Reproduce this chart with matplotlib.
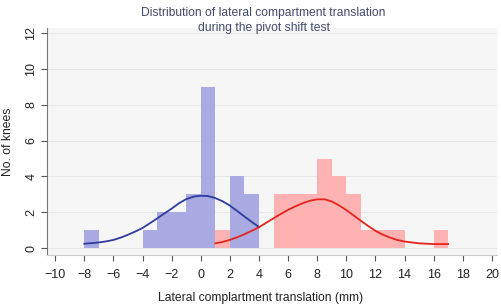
import matplotlib
matplotlib.use('Agg')
import matplotlib.pyplot as plt

plt.rcParams['font.family'] = ['Liberation Sans', 'DejaVu Sans']

# histogram bins (left edge, width 1 mm) and counts
blue_edges = [-8, -4, -3, -2, -1, 0, 2, 3]
blue_counts = [1, 1, 2, 2, 3, 9, 4, 3]
red_edges = [1, 5, 6, 7, 8, 9, 10, 11, 12, 13, 16]
red_counts = [1, 3, 3, 3, 5, 4, 3, 1, 1, 1, 1]

# fitted curves
blue_x = [-8, -7.5, -7, -6.5, -6, -5.5, -5, -4.5, -4, -3.5, -3, -2.5, -2, -1.5, -1, -0.5,
          0, 0.5, 1, 1.5, 2, 2.5, 3, 3.5, 4]
blue_y = [0.24, 0.27, 0.31, 0.37, 0.45, 0.58, 0.74, 0.92, 1.12, 1.38, 1.65, 1.93, 2.2, 2.5, 2.73, 2.87,
          2.92, 2.9, 2.79, 2.61, 2.37, 2.07, 1.76, 1.46, 1.17]
red_x = [1, 1.5, 2, 2.5, 3, 3.5, 4, 4.5, 5, 5.5, 6, 6.5, 7, 7.5, 8, 8.5, 9, 9.5, 10, 10.5,
         11, 11.5, 12, 12.5, 13, 13.5, 14, 15, 16, 17]
red_y = [0.26, 0.34, 0.45, 0.6, 0.77, 0.96, 1.16, 1.41, 1.66, 1.9, 2.13, 2.33, 2.5, 2.64, 2.72, 2.72, 2.6, 2.38,
         2.12, 1.82, 1.52, 1.23, 0.96, 0.75, 0.58, 0.45, 0.36, 0.26, 0.22, 0.22]

x_ticks = list(range(-10, 21, 2))
y_ticks = list(range(0, 13, 2))

fig = plt.figure(figsize=(5.02, 3.05), dpi=100)
ax = fig.add_axes([0.094, 0.164, 0.896, 0.744])
ax.set_facecolor('#f5f6f5')

ax.bar(blue_edges, blue_counts, width=1, align='edge', color='#aaaae2', linewidth=0, zorder=2)
ax.bar(red_edges, red_counts, width=1, align='edge', color='#ffb2b2', linewidth=0, zorder=2)
ax.plot(blue_x, blue_y, color='#2d3a9e', lw=1.3, zorder=3)
ax.plot(red_x, red_y, color='#e4241c', lw=1.3, zorder=3)

ax.set_xlim(-10.55, 20.35)
ax.set_ylim(-0.39, 12.29)
ax.set_xticks(x_ticks)
ax.set_xticklabels([str(t).replace('-', '\u2212') for t in x_ticks])
ax.set_yticks(y_ticks)
ax.set_yticklabels([str(t) for t in y_ticks], rotation=90, va='center')
ax.yaxis.grid(True, color='#e4e9e6', lw=0.8, zorder=0)
ax.set_axisbelow(True)

for s in ['top', 'right']:
    ax.spines[s].set_visible(False)
ax.spines['left'].set_color('#777777')
ax.spines['bottom'].set_color('#cccccc')
ax.tick_params(axis='both', colors='#555555', labelcolor='#222222', labelsize=9,
               length=4, width=0.8)
ax.tick_params(axis='x', pad=6)
ax.tick_params(axis='y', pad=3)

ax.set_xlabel('Lateral complartment translation (mm)', fontsize=8.7, color='#222222')
ax.xaxis.set_label_coords(0.474, -0.165)
ax.set_ylabel('No. of knees', fontsize=8.7, color='#222222', labelpad=8)
fig.text(0.525, 0.978, 'Distribution of lateral compartment translation\nduring the pivot shift test',
         ha='center', va='top', fontsize=8.7, color='#414b6b', linespacing=1.4)

fig.savefig('out.png', dpi=100)
